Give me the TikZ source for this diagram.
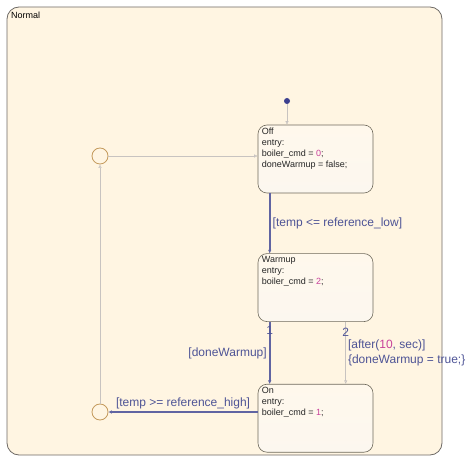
\documentclass[tikz,border=0pt]{standalone}
\usepackage{fontspec}
\setmainfont{Liberation Sans}
\usetikzlibrary{arrows.meta,positioning,quotes}
\definecolor{chartbg}{HTML}{FFF5E2}
\definecolor{frameline}{HTML}{6E6A66}
\definecolor{stateline}{HTML}{6F6A5C}
\definecolor{transblue}{HTML}{6064A2}
\definecolor{transgrey}{HTML}{C8C3C0}
\definecolor{lblblue}{HTML}{4E5496}
\definecolor{numpink}{HTML}{C8409A}
\definecolor{juncline}{HTML}{C49A5C}
\definecolor{dotblue}{HTML}{3C3F8F}

\begin{document}
\begin{tikzpicture}[x=1pt, y=-1pt,
            > = {Triangle[open, length=3.5pt, width=3pt]},
every edge quotes/.style = {font=\fontsize{12}{15}\selectfont, text=lblblue, inner sep=2pt, align=left},
      state/.style = {rectangle, rounded corners=9pt, draw=stateline, semithick,
                      top color=white!35!chartbg, bottom color=chartbg!85!brown!30,
                      minimum width=115pt, minimum height=68pt},
      entry/.style = {anchor=north west, align=left, inner xsep=4pt, inner ysep=3pt,
                      font=\fontsize{9}{11}\selectfont, text=black!85},
   junction/.style = {circle, draw=juncline, fill=chartbg, thick, minimum size=16pt, inner sep=0pt},
      heavy/.style = {->, draw=transblue, line width=2pt},
      light/.style = {->, draw=transgrey, semithick}
]
\useasboundingbox (0,0) rectangle (474,462);
% chart frame
\draw[draw=frameline, fill=chartbg, rounded corners=12pt, thick] (7,7) rectangle (442,455);
\node (title) [anchor=north west, inner sep=2pt, font=\fontsize{9}{11}\selectfont] at (9,10) {Normal};

% states
\node (Off)    [state] at (315.5,159) {};
\node (Warmup) [state, below=60pt of Off]    {};
\node (On)     [state, below=62pt of Warmup] {};
\node [entry] at (Off.north west)    {Off\\entry:\\boiler\_cmd = \textcolor{numpink}{0};\\doneWarmup = false;};
\node [entry] at (Warmup.north west) {Warmup\\entry:\\boiler\_cmd = \textcolor{numpink}{2};};
\node [entry] at (On.north west)     {On\\entry:\\boiler\_cmd = \textcolor{numpink}{1};};

% junctions and default transition
\node (J1)   [junction] at (100,156) {};
\node (J2)   [junction] at (100,412) {};
\node (init) [circle, fill=dotblue, inner sep=0pt, minimum size=6pt] at (287,101) {};

\path
        (init) edge [light] (init |- Off.north)
        ([xshift=12pt]Off.south west) edge [heavy, "{[temp <= reference\_low]}" right] ([xshift=12pt]Warmup.north west)
        ([xshift=12pt]Warmup.south west) edge [heavy, "1"{pos=0.14, anchor=center}, "{[doneWarmup]}" left] ([xshift=12pt]On.north west)
        ([xshift=88pt]Warmup.south west) edge [light, "2"{pos=0.17, anchor=center}, "{[after(\textcolor{numpink}{10}, sec)]\\\{doneWarmup = true;\}}" right] ([xshift=88pt]On.north west)
        (On.west |- J2) edge [heavy, "{[temp >= reference\_high]}" above] (J2)
        (J2) edge [light] (J1)
        (J1) edge [light] (Off.west |- J1);
\end{tikzpicture}
\end{document}
